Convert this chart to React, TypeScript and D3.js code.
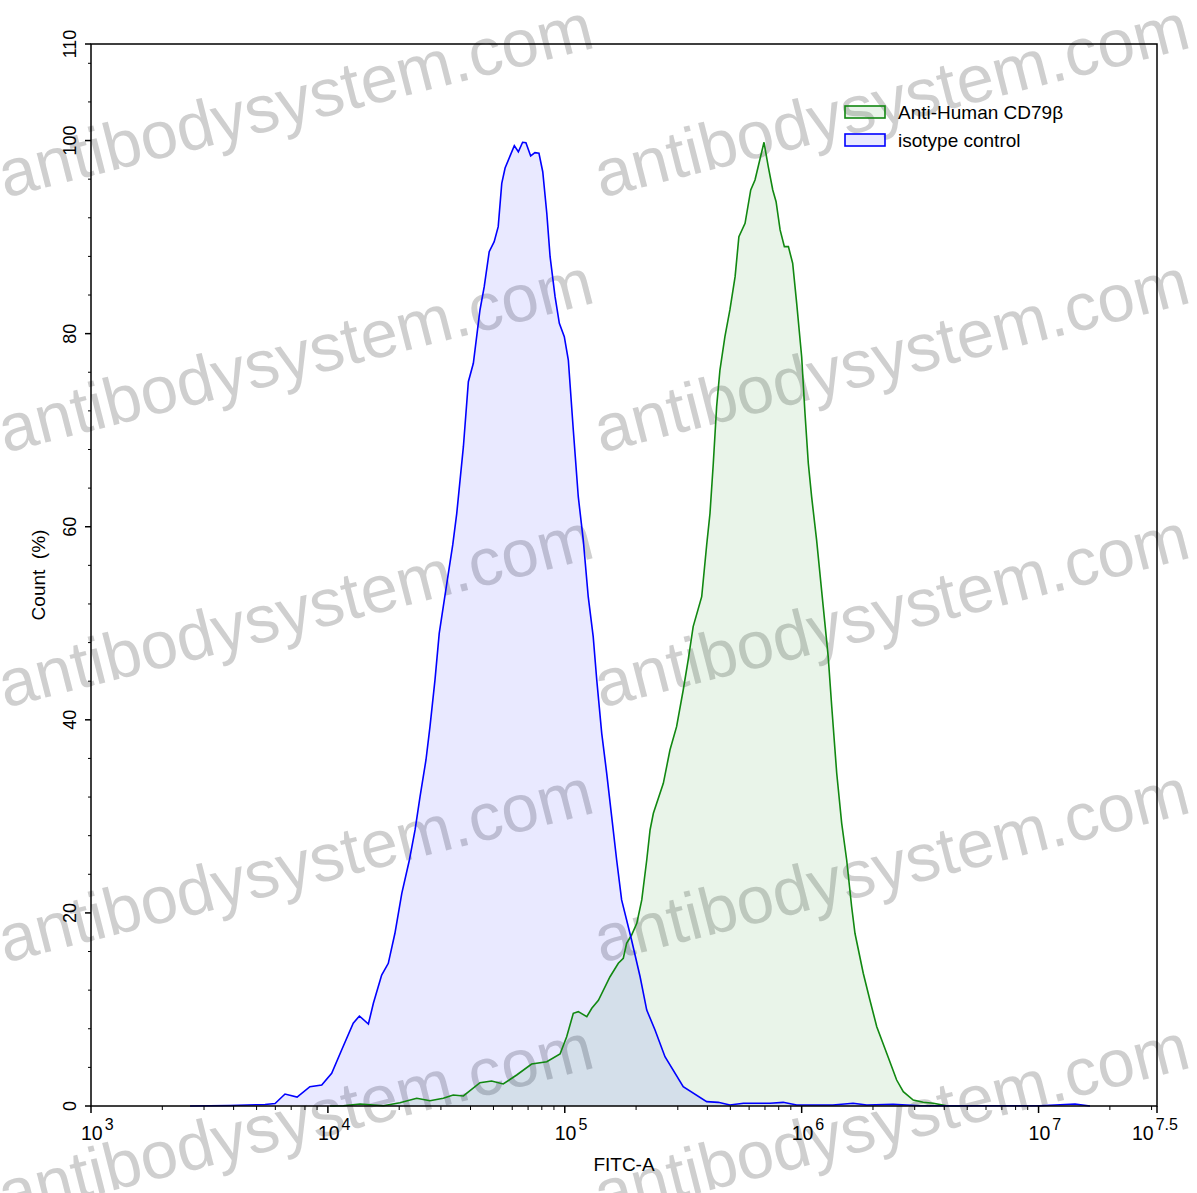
import React from "react";
import * as d3 from "d3";

// ---- Data ----
// FITC-A intensity given as log10 exponent; Count in %
const isotypeLog = [3.418, 3.587, 3.735, 3.777, 3.819, 3.87, 3.924, 3.974, 4.016, 4.058, 4.107, 4.133, 4.171, 4.192, 4.227, 4.255, 4.283, 4.312, 4.344, 4.368, 4.389, 4.414, 4.431, 4.452, 4.47, 4.502, 4.527, 4.544, 4.572, 4.593, 4.614, 4.642, 4.66, 4.681, 4.702, 4.719, 4.734, 4.748, 4.787, 4.804, 4.822, 4.836, 4.856, 4.874, 4.891, 4.907, 4.924, 4.938, 4.959, 4.977, 4.998, 5.015, 5.036, 5.057, 5.078, 5.099, 5.12, 5.135, 5.156, 5.177, 5.198, 5.219, 5.24, 5.282, 5.318, 5.346, 5.381, 5.423, 5.5, 5.599, 5.648, 5.697, 5.754, 5.866, 5.922, 5.979, 6.132, 6.217, 6.275, 6.386, 6.5, 7.006, 7.154, 7.217];
const isotypeCount = [0, 0.05, 0.16, 0.26, 1.24, 0.93, 2.0, 2.18, 3.39, 5.8, 8.57, 9.32, 8.49, 10.64, 13.57, 14.78, 17.89, 22.03, 25.48, 28.59, 32.04, 35.84, 39.29, 44.12, 48.96, 54.14, 58.11, 61.39, 68.29, 75.02, 76.93, 82.45, 84.86, 88.49, 89.52, 91.08, 95.57, 97.16, 99.47, 98.84, 99.82, 99.78, 98.4, 98.74, 98.68, 96.77, 92.5, 87.97, 83.83, 81.07, 79.68, 77.27, 70.02, 63.11, 58.63, 52.75, 48.61, 44.12, 38.6, 34.46, 29.97, 25.48, 21.34, 17.19, 13.39, 9.94, 7.87, 5.11, 2.0, 0.45, 0.38, 0.1, 0.28, 0.28, 0.38, 0.1, 0.1, 0.28, 0.1, 0.18, 0.03, 0.03, 0.21, 0];

const cd79Log = [4.009, 4.065, 4.136, 4.234, 4.304, 4.375, 4.431, 4.487, 4.529, 4.572, 4.642, 4.691, 4.74, 4.797, 4.86, 4.924, 4.98, 5.008, 5.036, 5.057, 5.093, 5.114, 5.142, 5.191, 5.226, 5.247, 5.261, 5.282, 5.304, 5.325, 5.346, 5.36, 5.374, 5.416, 5.444, 5.472, 5.5, 5.521, 5.542, 5.578, 5.599, 5.613, 5.627, 5.641, 5.655, 5.676, 5.697, 5.719, 5.735, 5.761, 5.785, 5.803, 5.841, 5.859, 5.878, 5.892, 5.909, 5.927, 5.944, 5.962, 5.979, 6.0, 6.014, 6.028, 6.042, 6.063, 6.091, 6.112, 6.127, 6.148, 6.169, 6.19, 6.211, 6.225, 6.26, 6.288, 6.317, 6.359, 6.401, 6.429, 6.471, 6.513, 6.556, 6.612, 6.668];
const cd79Count = [0, 0.03, 0.21, 0.03, 0.34, 0.8, 0.55, 0.8, 1.14, 1.04, 2.41, 2.59, 2.28, 3.21, 4.35, 4.59, 5.39, 7.18, 9.6, 9.77, 9.25, 10.12, 10.95, 13.39, 14.78, 15.3, 16.85, 17.71, 18.92, 21.34, 25.48, 28.59, 30.32, 33.42, 36.87, 39.29, 43.09, 46.2, 49.65, 52.75, 58.11, 61.39, 66.57, 72.43, 76.23, 79.68, 82.45, 85.9, 90.04, 91.43, 94.88, 95.91, 99.82, 97.29, 94.88, 93.67, 90.74, 89.01, 89.01, 87.29, 83.14, 77.61, 71.75, 66.57, 63.11, 58.63, 51.72, 46.54, 41.36, 34.46, 29.28, 25.48, 20.64, 17.89, 13.75, 10.98, 8.21, 5.46, 2.69, 1.48, 0.62, 0.38, 0.28, 0.03, 0];

const xTickExps = ["3", "4", "5", "6", "7", "7.5"];
const yTickLabels = [0, 20, 40, 60, 80, 100, 110];
const legendLabels = ["Anti-Human CD79β", "isotype control"];
const watermarkText = "antibodysystem.com";

const W = 1197;
const H = 1193;
const M = { left: 91, right: 1157, top: 44, bottom: 1106 };
const FONT = "'Liberation Sans', Arial, Helvetica, sans-serif";

export default function App() {
  const x = d3.scaleLog().domain([1e3, Math.pow(10, 7.5)]).range([M.left, M.right]);
  const y = d3.scaleLinear().domain([0, 110]).range([M.bottom, M.top]);

  const toPts = (lg: number[], ct: number[]) => lg.map((l, i) => [Math.pow(10, l), ct[i]] as [number, number]);
  const iso = toPts(isotypeLog, isotypeCount);
  const cd = toPts(cd79Log, cd79Count);

  const line = d3.line<[number, number]>().x((d) => x(d[0])).y((d) => y(d[1])).curve(d3.curveLinear);
  const area = d3
    .area<[number, number]>()
    .x((d) => x(d[0]))
    .y0(y(0))
    .y1((d) => y(d[1]))
    .curve(d3.curveLinear);

  const xMinor: number[] = [];
  for (let e = 3; e <= 7; e++) {
    for (let k = 2; k <= 9; k++) {
      const v = k * Math.pow(10, e);
      if (v < Math.pow(10, 7.5)) xMinor.push(v);
    }
  }
  const yMinor: number[] = d3.range(4, 110, 4).filter((v) => v % 20 !== 0);

  const wmRows = [198, 453, 708, 963, 1218];
  const wmCols = [5, 601];

  const green = "#118811";
  const blue = "#0000ff";

  return (
    <svg width={W} height={H} style={{ position: "absolute", left: 0, top: 0, background: "#fff" }} fontFamily={FONT}>
      <rect x={0} y={0} width={W} height={H} fill="#fff" />
      {/* watermark */}
      <g>
        {wmRows.map((ry) =>
          wmCols.map((cx) => (
            <text
              key={`${ry}-${cx}`}
              x={cx}
              y={ry}
              fontSize={67}
              fill="#8c8c8c"
              fillOpacity={0.42}
              transform={`rotate(-14.3, ${cx}, ${ry})`}
            >
              {watermarkText}
            </text>
          ))
        )}
      </g>
      {/* fills */}
      <path d={area(cd) || ""} fill="rgba(0,128,0,0.085)" />
      <path d={area(iso) || ""} fill="rgba(0,0,255,0.085)" />
      {/* lines */}
      <path d={line(cd) || ""} fill="none" stroke={green} strokeWidth={1.6} />
      <path d={line(iso) || ""} fill="none" stroke={blue} strokeWidth={1.6} />

      {/* frame */}
      <rect x={M.left} y={M.top} width={M.right - M.left} height={M.bottom - M.top} fill="none" stroke="#000" strokeWidth={1.5} />

      {/* x ticks */}
      {xMinor.map((v) => (
        <line key={`xm${v}`} x1={x(v)} x2={x(v)} y1={M.bottom} y2={M.bottom + 4} stroke="#000" strokeWidth={1} />
      ))}
      {xTickExps.map((e) => {
        const px = x(Math.pow(10, parseFloat(e)));
        const off = e === "7.5" ? -25 : -10;
        return (
          <g key={`xt${e}`}>
            <line x1={px} x2={px} y1={M.bottom} y2={M.bottom + 7} stroke="#000" strokeWidth={1.5} />
            <text x={px + off} y={1140} fontSize={19.5} fill="#000">
              10
              <tspan dx={2} dy={-10} fontSize={16}>
                {e}
              </tspan>
            </text>
          </g>
        );
      })}

      {/* y ticks */}
      {yMinor.map((v) => (
        <line key={`ym${v}`} x1={M.left - 3} x2={M.left} y1={y(v)} y2={y(v)} stroke="#000" strokeWidth={1} />
      ))}
      {yTickLabels.map((v) => (
        <g key={`yt${v}`}>
          <line x1={M.left - 6} x2={M.left} y1={y(v)} y2={y(v)} stroke="#000" strokeWidth={1.5} />
          <text
            x={76}
            y={y(v)}
            fontSize={18}
            textAnchor="middle"
            transform={`rotate(-90, 76, ${y(v)})`}
            fill="#000"
          >
            {v}
          </text>
        </g>
      ))}

      {/* axis titles */}
      <text x={624} y={1171} fontSize={19} textAnchor="middle" fill="#000">
        FITC-A
      </text>
      <text x={45} y={575} fontSize={19} textAnchor="middle" transform="rotate(-90, 45, 575)" fill="#000" style={{ whiteSpace: "pre" }}>
        {"Count  (%)"}
      </text>

      {/* legend */}
      {legendLabels.map((lab, i) => {
        const ly = 106 + i * 28;
        const col = i === 0 ? green : blue;
        const fill = i === 0 ? "rgba(0,128,0,0.085)" : "rgba(0,0,255,0.085)";
        return (
          <g key={lab}>
            <rect x={845} y={ly} width={40} height={12} fill={fill} stroke={col} strokeWidth={1.6} />
            <text x={898} y={ly + 12.5} fontSize={19} fill="#000">
              {lab}
            </text>
          </g>
        );
      })}
    </svg>
  );
}
